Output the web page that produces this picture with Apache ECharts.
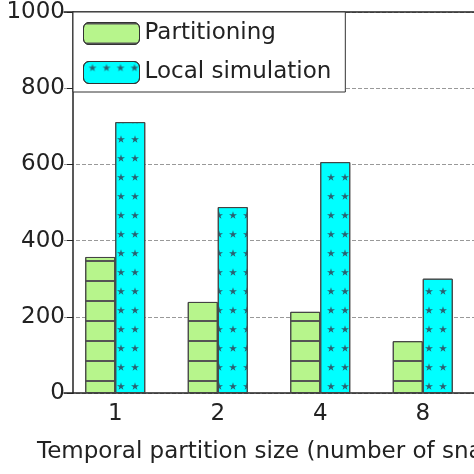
<!DOCTYPE html><html><head><meta charset="utf-8">
<script src="https://cdn.jsdelivr.net/npm/echarts@6/dist/echarts.min.js"></script>
<style>html,body{margin:0;padding:0;background:#fff}#c{width:474px;height:474px}</style></head><body><div id="c"></div>
<script>
const categories=['1','2','4','8'];
const partitioning=[357,239,213,136];
const localSim=[711,488,606,300];
const yTicks=[0,200,400,600,800,1000];
const c=echarts.init(document.getElementById('c'));
const star='path://M50,0 L61,35 L98,35 L68,57 L79,91 L50,70 L21,91 L32,57 L2,35 L39,35 Z';
c.setOption({
  animation:false,
  grid:{left:64,top:12,right:-66,bottom:81},
  legend:{left:73,top:12,orient:'vertical',itemWidth:56,itemHeight:22,itemGap:16,padding:[10,14,8,10],
    borderColor:'#333',borderWidth:1,backgroundColor:'#fff',textStyle:{fontSize:23,color:'#222',fontFamily:'DejaVu Sans'},
    itemStyle:{borderColor:'#333',borderWidth:1},
    data:['Partitioning','Local simulation']},
  xAxis:[{type:'category',data:categories,axisLine:{lineStyle:{color:'#222',width:1.5}},
    axisTick:{alignWithLabel:true,length:6,lineStyle:{color:'#222'}},
    axisLabel:{fontSize:23,color:'#222',fontFamily:'DejaVu Sans',margin:10}},
    {type:'category',position:'top',data:categories,axisLine:{lineStyle:{color:'#222',width:1.5}},axisTick:{show:false},axisLabel:{show:false}}],
  yAxis:{type:'value',min:0,max:1000,interval:200,offset:-9,
    axisLine:{show:true,lineStyle:{color:'#222',width:1.5}},axisTick:{show:true,length:6,lineStyle:{color:'#222'}},
    axisLabel:{fontSize:23,color:'#222',fontFamily:'DejaVu Sans',margin:8,formatter:v=>String(v)},
    splitLine:{lineStyle:{type:'dashed',color:'#999'}}},
  graphic:[{type:'text',left:37,top:441,style:{text:'Temporal partition size (number of snapshots)',fontSize:23,fill:'#222',fontFamily:'DejaVu Sans'}}],
  series:[
    {name:'Partitioning',type:'bar',data:partitioning,barWidth:30,barGap:'0%',
     itemStyle:{color:'#b7f58c',borderColor:'#444',borderWidth:1,
       decal:{symbol:'rect',symbolSize:1,dashArrayX:[1,0],dashArrayY:[1.2,18],color:'#555',rotation:0}}},
    {name:'Local simulation',type:'bar',data:localSim,barWidth:30,
     itemStyle:{color:'#00ffff',borderColor:'#444',borderWidth:1,
       decal:{symbol:star,symbolSize:0.8,dashArrayX:[[0,4,10,0]],dashArrayY:[12,7],color:'#2a6070'}}}
  ]
});
</script></body></html>
